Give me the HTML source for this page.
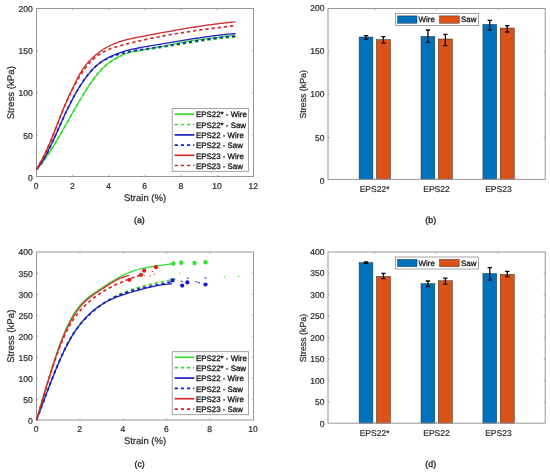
<!DOCTYPE html>
<html lang="en">
<head>
<meta charset="utf-8">
<title>Stress-strain figure</title>
<style>
html,body{margin:0;padding:0;background:#fff;}
body{width:550px;height:472px;overflow:hidden;}
svg{display:block;font-family:"Liberation Sans", sans-serif;text-rendering:geometricPrecision;filter:blur(0.35px);}
</style>
</head>
<body>
<svg width="550" height="472" viewBox="0 0 550 472">
<rect x="0" y="0" width="550" height="472" fill="#ffffff"/>
<rect x="36.5" y="8.5" width="217.0" height="168.0" fill="#fff" stroke="#969696" stroke-width="1"/>
<path d="M72.67 176.5v-1.6M72.67 8.5v1.6 M108.83 176.5v-1.6M108.83 8.5v1.6 M145.00 176.5v-1.6M145.00 8.5v1.6 M181.17 176.5v-1.6M181.17 8.5v1.6 M217.33 176.5v-1.6M217.33 8.5v1.6 M36.5 134.95h1.6M253.5 134.95h-1.6 M36.5 92.80h1.6M253.5 92.80h-1.6 M36.5 50.65h1.6M253.5 50.65h-1.6" stroke="#969696" stroke-width="0.8" fill="none"/>
<text x="36.20" y="189.00" font-size="8.5" text-anchor="middle" fill="#2c2c2c" stroke="#2c2c2c" stroke-width="0.22">0</text>
<text x="72.37" y="189.00" font-size="8.5" text-anchor="middle" fill="#2c2c2c" stroke="#2c2c2c" stroke-width="0.22">2</text>
<text x="108.53" y="189.00" font-size="8.5" text-anchor="middle" fill="#2c2c2c" stroke="#2c2c2c" stroke-width="0.22">4</text>
<text x="144.70" y="189.00" font-size="8.5" text-anchor="middle" fill="#2c2c2c" stroke="#2c2c2c" stroke-width="0.22">6</text>
<text x="180.87" y="189.00" font-size="8.5" text-anchor="middle" fill="#2c2c2c" stroke="#2c2c2c" stroke-width="0.22">8</text>
<text x="217.03" y="189.00" font-size="8.5" text-anchor="middle" fill="#2c2c2c" stroke="#2c2c2c" stroke-width="0.22">10</text>
<text x="253.20" y="189.00" font-size="8.5" text-anchor="middle" fill="#2c2c2c" stroke="#2c2c2c" stroke-width="0.22">12</text>
<text x="32.70" y="180.90" font-size="8.5" text-anchor="end" fill="#2c2c2c" stroke="#2c2c2c" stroke-width="0.22">0</text>
<text x="32.70" y="138.55" font-size="8.5" text-anchor="end" fill="#2c2c2c" stroke="#2c2c2c" stroke-width="0.22">50</text>
<text x="32.70" y="96.20" font-size="8.5" text-anchor="end" fill="#2c2c2c" stroke="#2c2c2c" stroke-width="0.22">100</text>
<text x="32.70" y="53.85" font-size="8.5" text-anchor="end" fill="#2c2c2c" stroke="#2c2c2c" stroke-width="0.22">150</text>
<text x="32.70" y="11.50" font-size="8.5" text-anchor="end" fill="#2c2c2c" stroke="#2c2c2c" stroke-width="0.22">200</text>
<text x="145.00" y="201.10" font-size="9.5" text-anchor="middle" fill="#2c2c2c" stroke="#2c2c2c" stroke-width="0.22">Strain (%)</text>
<text transform="translate(13.9 92.7) rotate(-90)" font-size="9.7" text-anchor="middle" fill="#2c2c2c" stroke="#2c2c2c" stroke-width="0.22">Stress (kPa)</text>
<clipPath id="cl"><rect x="30" y="0" width="92" height="180"/></clipPath><clipPath id="cr"><rect x="122" y="0" width="130" height="180"/></clipPath>
<path d="M36.50 169.29 L38.00 167.67 L39.49 165.95 L40.99 164.14 L42.48 162.24 L43.98 160.25 L45.48 158.19 L46.97 156.05 L48.47 153.84 L49.97 151.57 L51.46 149.24 L52.96 146.85 L54.45 144.42 L55.95 141.94 L57.45 139.42 L58.94 136.87 L60.44 134.28 L61.94 131.67 L63.43 129.04 L64.93 126.40 L66.42 123.75 L67.92 121.09 L69.42 118.43 L70.91 115.77 L72.41 113.13 L73.91 110.50 L75.40 107.88 L76.90 105.30 L78.39 102.74 L79.89 100.21 L81.39 97.72 L82.88 95.26 L84.38 92.86 L85.88 90.49 L87.37 88.18 L88.87 85.92 L90.36 83.73 L91.86 81.59 L93.36 79.52 L94.85 77.52 L96.35 75.60 L97.85 73.75 L99.34 71.99 L100.84 70.31 L102.33 68.72 L103.83 67.22 L105.33 65.81 L106.82 64.49 L108.32 63.24 L109.82 62.08 L111.31 60.99 L112.81 59.97 L114.30 59.02 L115.80 58.14 L117.30 57.32 L118.79 56.56 L120.29 55.85 L121.79 55.19 L123.28 54.58 L124.78 54.02 L126.27 53.51 L127.77 53.03 L129.27 52.59 L130.76 52.18 L132.26 51.80 L133.76 51.45 L135.25 51.13 L136.75 50.82 L138.24 50.54 L139.74 50.27 L141.24 50.01 L142.73 49.77 L144.23 49.53 L145.73 49.29 L147.22 49.05 L148.72 48.81 L150.21 48.57 L151.71 48.32 L153.21 48.05 L154.70 47.79 L156.20 47.51 L157.70 47.23 L159.19 46.95 L160.69 46.66 L162.18 46.37 L163.68 46.07 L165.18 45.77 L166.67 45.47 L168.17 45.17 L169.67 44.87 L171.16 44.57 L172.66 44.26 L174.15 43.96 L175.65 43.66 L177.15 43.37 L178.64 43.07 L180.14 42.78 L181.64 42.49 L183.13 42.21 L184.63 41.94 L186.12 41.67 L187.62 41.40 L189.12 41.15 L190.61 40.90 L192.11 40.66 L193.61 40.43 L195.10 40.21 L196.60 39.99 L198.09 39.79 L199.59 39.58 L201.09 39.39 L202.58 39.20 L204.08 39.01 L205.58 38.83 L207.07 38.65 L208.57 38.47 L210.06 38.29 L211.56 38.11 L213.06 37.94 L214.55 37.76 L216.05 37.58 L217.55 37.40 L219.04 37.22 L220.54 37.03 L222.03 36.84 L223.53 36.64 L225.03 36.44 L226.52 36.23 L228.02 36.01 L229.52 35.79 L231.01 35.56 L232.51 35.31 L234.00 35.06 L235.50 34.80" stroke="#35dc35" stroke-width="1.3" fill="none" stroke-linejoin="round"/>
<path d="M36.50 169.29 L38.00 167.68 L39.49 165.98 L40.99 164.19 L42.48 162.30 L43.98 160.33 L45.48 158.29 L46.97 156.16 L48.47 153.97 L49.97 151.71 L51.46 149.39 L52.96 147.01 L54.45 144.59 L55.95 142.11 L57.45 139.60 L58.94 137.05 L60.44 134.46 L61.94 131.85 L63.43 129.22 L64.93 126.57 L66.42 123.91 L67.92 121.24 L69.42 118.56 L70.91 115.89 L72.41 113.22 L73.91 110.57 L75.40 107.93 L76.90 105.31 L78.39 102.71 L79.89 100.15 L81.39 97.62 L82.88 95.13 L84.38 92.69 L85.88 90.29 L87.37 87.95 L88.87 85.67 L90.36 83.45 L91.86 81.30 L93.36 79.22 L94.85 77.22 L96.35 75.31 L97.85 73.48 L99.34 71.74 L100.84 70.10 L102.33 68.56 L103.83 67.13 L105.33 65.79 L106.82 64.55 L108.32 63.40 L109.82 62.33 L111.31 61.33 L112.81 60.41 L114.30 59.55 L115.80 58.76 L117.30 58.02 L118.79 57.33 L120.29 56.69 L121.79 56.08 L123.28 55.52 L124.78 54.99 L126.27 54.49 L127.77 54.03 L129.27 53.59 L130.76 53.19 L132.26 52.80 L133.76 52.44 L135.25 52.11 L136.75 51.79 L138.24 51.48 L139.74 51.20 L141.24 50.92 L142.73 50.66 L144.23 50.40 L145.73 50.15 L147.22 49.90 L148.72 49.66 L150.21 49.41 L151.71 49.17 L153.21 48.92 L154.70 48.67 L156.20 48.42 L157.70 48.17 L159.19 47.91 L160.69 47.66 L162.18 47.40 L163.68 47.15 L165.18 46.89 L166.67 46.63 L168.17 46.38 L169.67 46.12 L171.16 45.86 L172.66 45.60 L174.15 45.35 L175.65 45.09 L177.15 44.83 L178.64 44.58 L180.14 44.32 L181.64 44.07 L183.13 43.82 L184.63 43.57 L186.12 43.32 L187.62 43.07 L189.12 42.82 L190.61 42.58 L192.11 42.33 L193.61 42.09 L195.10 41.85 L196.60 41.62 L198.09 41.39 L199.59 41.15 L201.09 40.93 L202.58 40.70 L204.08 40.48 L205.58 40.26 L207.07 40.05 L208.57 39.84 L210.06 39.63 L211.56 39.42 L213.06 39.22 L214.55 39.03 L216.05 38.84 L217.55 38.65 L219.04 38.47 L220.54 38.29 L222.03 38.12 L223.53 37.95 L225.03 37.79 L226.52 37.63 L228.02 37.48 L229.52 37.33 L231.01 37.19 L232.51 37.06 L234.00 36.93 L235.50 36.81" stroke="#35dc35" stroke-width="1.7000000000000002" stroke-dasharray="3.3 2.9" fill="none" clip-path="url(#cl)"/>
<path d="M36.50 169.30 L38.00 167.61 L39.49 165.70 L40.99 163.59 L42.48 161.28 L43.98 158.79 L45.48 156.14 L46.97 153.35 L48.47 150.43 L49.97 147.40 L51.46 144.28 L52.96 141.07 L54.45 137.80 L55.95 134.48 L57.45 131.13 L58.94 127.76 L60.44 124.39 L61.94 121.04 L63.43 117.72 L64.93 114.45 L66.42 111.24 L67.92 108.11 L69.42 105.06 L70.91 102.09 L72.41 99.21 L73.91 96.41 L75.40 93.70 L76.90 91.08 L78.39 88.55 L79.89 86.11 L81.39 83.77 L82.88 81.51 L84.38 79.36 L85.88 77.30 L87.37 75.34 L88.87 73.48 L90.36 71.72 L91.86 70.07 L93.36 68.52 L94.85 67.08 L96.35 65.74 L97.85 64.51 L99.34 63.37 L100.84 62.32 L102.33 61.35 L103.83 60.46 L105.33 59.63 L106.82 58.86 L108.32 58.14 L109.82 57.46 L111.31 56.83 L112.81 56.23 L114.30 55.66 L115.80 55.13 L117.30 54.62 L118.79 54.15 L120.29 53.70 L121.79 53.28 L123.28 52.88 L124.78 52.51 L126.27 52.16 L127.77 51.83 L129.27 51.52 L130.76 51.22 L132.26 50.94 L133.76 50.68 L135.25 50.42 L136.75 50.18 L138.24 49.95 L139.74 49.73 L141.24 49.51 L142.73 49.30 L144.23 49.09 L145.73 48.88 L147.22 48.67 L148.72 48.47 L150.21 48.26 L151.71 48.04 L153.21 47.83 L154.70 47.61 L156.20 47.38 L157.70 47.16 L159.19 46.93 L160.69 46.70 L162.18 46.46 L163.68 46.23 L165.18 45.99 L166.67 45.75 L168.17 45.51 L169.67 45.26 L171.16 45.02 L172.66 44.78 L174.15 44.53 L175.65 44.28 L177.15 44.04 L178.64 43.79 L180.14 43.54 L181.64 43.30 L183.13 43.05 L184.63 42.80 L186.12 42.56 L187.62 42.31 L189.12 42.07 L190.61 41.83 L192.11 41.59 L193.61 41.35 L195.10 41.12 L196.60 40.88 L198.09 40.65 L199.59 40.42 L201.09 40.19 L202.58 39.97 L204.08 39.75 L205.58 39.53 L207.07 39.32 L208.57 39.11 L210.06 38.91 L211.56 38.71 L213.06 38.51 L214.55 38.32 L216.05 38.13 L217.55 37.95 L219.04 37.77 L220.54 37.60 L222.03 37.43 L223.53 37.27 L225.03 37.11 L226.52 36.96 L228.02 36.82 L229.52 36.68 L231.01 36.56 L232.51 36.43 L234.00 36.32 L235.50 36.21" stroke="#35dc35" stroke-width="1.7000000000000002" stroke-dasharray="3.3 2.9" fill="none" clip-path="url(#cr)" transform="translate(0 0.9)"/>
<path d="M36.50 169.31 L38.00 167.55 L39.49 165.58 L40.99 163.41 L42.48 161.07 L43.98 158.56 L45.48 155.89 L46.97 153.10 L48.47 150.18 L49.97 147.15 L51.46 144.04 L52.96 140.85 L54.45 137.61 L55.95 134.32 L57.45 131.00 L58.94 127.66 L60.44 124.33 L61.94 121.01 L63.43 117.73 L64.93 114.49 L66.42 111.31 L67.92 108.21 L69.42 105.18 L70.91 102.24 L72.41 99.38 L73.91 96.60 L75.40 93.91 L76.90 91.30 L78.39 88.78 L79.89 86.34 L81.39 84.00 L82.88 81.75 L84.38 79.58 L85.88 77.51 L87.37 75.54 L88.87 73.66 L90.36 71.88 L91.86 70.20 L93.36 68.61 L94.85 67.13 L96.35 65.75 L97.85 64.46 L99.34 63.27 L100.84 62.16 L102.33 61.12 L103.83 60.15 L105.33 59.25 L106.82 58.41 L108.32 57.61 L109.82 56.86 L111.31 56.15 L112.81 55.47 L114.30 54.83 L115.80 54.22 L117.30 53.64 L118.79 53.09 L120.29 52.57 L121.79 52.07 L123.28 51.60 L124.78 51.16 L126.27 50.74 L127.77 50.33 L129.27 49.95 L130.76 49.59 L132.26 49.24 L133.76 48.91 L135.25 48.60 L136.75 48.29 L138.24 48.00 L139.74 47.72 L141.24 47.45 L142.73 47.18 L144.23 46.92 L145.73 46.66 L147.22 46.41 L148.72 46.16 L150.21 45.91 L151.71 45.66 L153.21 45.41 L154.70 45.16 L156.20 44.90 L157.70 44.65 L159.19 44.40 L160.69 44.14 L162.18 43.89 L163.68 43.63 L165.18 43.38 L166.67 43.12 L168.17 42.87 L169.67 42.62 L171.16 42.36 L172.66 42.11 L174.15 41.86 L175.65 41.61 L177.15 41.36 L178.64 41.11 L180.14 40.86 L181.64 40.62 L183.13 40.37 L184.63 40.13 L186.12 39.89 L187.62 39.65 L189.12 39.41 L190.61 39.17 L192.11 38.94 L193.61 38.71 L195.10 38.48 L196.60 38.25 L198.09 38.02 L199.59 37.80 L201.09 37.58 L202.58 37.36 L204.08 37.15 L205.58 36.94 L207.07 36.73 L208.57 36.52 L210.06 36.32 L211.56 36.12 L213.06 35.93 L214.55 35.74 L216.05 35.55 L217.55 35.37 L219.04 35.19 L220.54 35.01 L222.03 34.84 L223.53 34.68 L225.03 34.51 L226.52 34.35 L228.02 34.20 L229.52 34.05 L231.01 33.91 L232.51 33.77 L234.00 33.64 L235.50 33.51" stroke="#2020bc" stroke-width="1.3" fill="none" stroke-linejoin="round"/>
<path d="M36.50 169.30 L38.00 167.61 L39.49 165.70 L40.99 163.59 L42.48 161.28 L43.98 158.79 L45.48 156.14 L46.97 153.35 L48.47 150.43 L49.97 147.40 L51.46 144.28 L52.96 141.07 L54.45 137.80 L55.95 134.48 L57.45 131.13 L58.94 127.76 L60.44 124.39 L61.94 121.04 L63.43 117.72 L64.93 114.45 L66.42 111.24 L67.92 108.11 L69.42 105.06 L70.91 102.09 L72.41 99.21 L73.91 96.41 L75.40 93.70 L76.90 91.08 L78.39 88.55 L79.89 86.11 L81.39 83.77 L82.88 81.51 L84.38 79.36 L85.88 77.30 L87.37 75.34 L88.87 73.48 L90.36 71.72 L91.86 70.07 L93.36 68.52 L94.85 67.08 L96.35 65.74 L97.85 64.51 L99.34 63.37 L100.84 62.32 L102.33 61.35 L103.83 60.46 L105.33 59.63 L106.82 58.86 L108.32 58.14 L109.82 57.46 L111.31 56.83 L112.81 56.23 L114.30 55.66 L115.80 55.13 L117.30 54.62 L118.79 54.15 L120.29 53.70 L121.79 53.28 L123.28 52.88 L124.78 52.51 L126.27 52.16 L127.77 51.83 L129.27 51.52 L130.76 51.22 L132.26 50.94 L133.76 50.68 L135.25 50.42 L136.75 50.18 L138.24 49.95 L139.74 49.73 L141.24 49.51 L142.73 49.30 L144.23 49.09 L145.73 48.88 L147.22 48.67 L148.72 48.47 L150.21 48.26 L151.71 48.04 L153.21 47.83 L154.70 47.61 L156.20 47.38 L157.70 47.16 L159.19 46.93 L160.69 46.70 L162.18 46.46 L163.68 46.23 L165.18 45.99 L166.67 45.75 L168.17 45.51 L169.67 45.26 L171.16 45.02 L172.66 44.78 L174.15 44.53 L175.65 44.28 L177.15 44.04 L178.64 43.79 L180.14 43.54 L181.64 43.30 L183.13 43.05 L184.63 42.80 L186.12 42.56 L187.62 42.31 L189.12 42.07 L190.61 41.83 L192.11 41.59 L193.61 41.35 L195.10 41.12 L196.60 40.88 L198.09 40.65 L199.59 40.42 L201.09 40.19 L202.58 39.97 L204.08 39.75 L205.58 39.53 L207.07 39.32 L208.57 39.11 L210.06 38.91 L211.56 38.71 L213.06 38.51 L214.55 38.32 L216.05 38.13 L217.55 37.95 L219.04 37.77 L220.54 37.60 L222.03 37.43 L223.53 37.27 L225.03 37.11 L226.52 36.96 L228.02 36.82 L229.52 36.68 L231.01 36.56 L232.51 36.43 L234.00 36.32 L235.50 36.21" stroke="#2020bc" stroke-width="1.7000000000000002" stroke-dasharray="3.3 2.9" fill="none" stroke-linejoin="round"/>
<path d="M36.50 169.30 L38.00 166.73 L39.49 164.08 L40.99 161.35 L42.48 158.53 L43.98 155.60 L45.48 152.57 L46.97 149.41 L48.47 146.14 L49.97 142.73 L51.46 139.18 L52.96 135.49 L54.45 131.71 L55.95 127.86 L57.45 124.00 L58.94 120.14 L60.44 116.31 L61.94 112.54 L63.43 108.83 L64.93 105.22 L66.42 101.72 L67.92 98.36 L69.42 95.12 L70.91 91.96 L72.41 88.85 L73.91 85.75 L75.40 82.65 L76.90 79.59 L78.39 76.65 L79.89 73.90 L81.39 71.37 L82.88 69.04 L84.38 66.91 L85.88 64.95 L87.37 63.14 L88.87 61.46 L90.36 59.90 L91.86 58.42 L93.36 57.02 L94.85 55.69 L96.35 54.43 L97.85 53.23 L99.34 52.09 L100.84 51.02 L102.33 50.00 L103.83 49.03 L105.33 48.12 L106.82 47.27 L108.32 46.46 L109.82 45.69 L111.31 44.97 L112.81 44.30 L114.30 43.66 L115.80 43.06 L117.30 42.50 L118.79 41.97 L120.29 41.48 L121.79 41.01 L123.28 40.57 L124.78 40.15 L126.27 39.76 L127.77 39.39 L129.27 39.03 L130.76 38.70 L132.26 38.37 L133.76 38.06 L135.25 37.76 L136.75 37.46 L138.24 37.17 L139.74 36.88 L141.24 36.60 L142.73 36.31 L144.23 36.02 L145.73 35.74 L147.22 35.45 L148.72 35.17 L150.21 34.89 L151.71 34.60 L153.21 34.32 L154.70 34.04 L156.20 33.76 L157.70 33.48 L159.19 33.20 L160.69 32.93 L162.18 32.65 L163.68 32.38 L165.18 32.10 L166.67 31.83 L168.17 31.56 L169.67 31.29 L171.16 31.03 L172.66 30.76 L174.15 30.50 L175.65 30.23 L177.15 29.97 L178.64 29.71 L180.14 29.46 L181.64 29.20 L183.13 28.95 L184.63 28.70 L186.12 28.45 L187.62 28.20 L189.12 27.96 L190.61 27.72 L192.11 27.48 L193.61 27.24 L195.10 27.00 L196.60 26.77 L198.09 26.54 L199.59 26.31 L201.09 26.09 L202.58 25.87 L204.08 25.65 L205.58 25.43 L207.07 25.22 L208.57 25.01 L210.06 24.80 L211.56 24.60 L213.06 24.40 L214.55 24.20 L216.05 24.01 L217.55 23.82 L219.04 23.63 L220.54 23.44 L222.03 23.26 L223.53 23.09 L225.03 22.91 L226.52 22.75 L228.02 22.58 L229.52 22.42 L231.01 22.26 L232.51 22.11 L234.00 21.96 L235.50 21.81" stroke="#d42a2a" stroke-width="1.3" fill="none" stroke-linejoin="round"/>
<path d="M36.50 169.30 L38.00 166.87 L39.49 164.30 L40.99 161.59 L42.48 158.73 L43.98 155.75 L45.48 152.63 L46.97 149.39 L48.47 146.03 L49.97 142.55 L51.46 138.97 L52.96 135.28 L54.45 131.52 L55.95 127.72 L57.45 123.89 L58.94 120.08 L60.44 116.31 L61.94 112.61 L63.43 109.00 L64.93 105.48 L66.42 102.07 L67.92 98.75 L69.42 95.54 L70.91 92.43 L72.41 89.43 L73.91 86.53 L75.40 83.74 L76.90 81.05 L78.39 78.48 L79.89 76.02 L81.39 73.67 L82.88 71.44 L84.38 69.32 L85.88 67.32 L87.37 65.44 L88.87 63.68 L90.36 62.03 L91.86 60.51 L93.36 59.08 L94.85 57.77 L96.35 56.55 L97.85 55.42 L99.34 54.38 L100.84 53.42 L102.33 52.53 L103.83 51.72 L105.33 50.97 L106.82 50.27 L108.32 49.64 L109.82 49.04 L111.31 48.50 L112.81 47.98 L114.30 47.50 L115.80 47.05 L117.30 46.61 L118.79 46.19 L120.29 45.78 L121.79 45.37 L123.28 44.96 L124.78 44.57 L126.27 44.17 L127.77 43.78 L129.27 43.40 L130.76 43.02 L132.26 42.64 L133.76 42.27 L135.25 41.90 L136.75 41.54 L138.24 41.18 L139.74 40.83 L141.24 40.48 L142.73 40.14 L144.23 39.80 L145.73 39.47 L147.22 39.14 L148.72 38.82 L150.21 38.50 L151.71 38.18 L153.21 37.88 L154.70 37.57 L156.20 37.27 L157.70 36.97 L159.19 36.68 L160.69 36.40 L162.18 36.11 L163.68 35.84 L165.18 35.56 L166.67 35.29 L168.17 35.02 L169.67 34.76 L171.16 34.50 L172.66 34.24 L174.15 33.99 L175.65 33.74 L177.15 33.50 L178.64 33.25 L180.14 33.02 L181.64 32.78 L183.13 32.55 L184.63 32.31 L186.12 32.09 L187.62 31.86 L189.12 31.64 L190.61 31.42 L192.11 31.20 L193.61 30.99 L195.10 30.77 L196.60 30.56 L198.09 30.35 L199.59 30.14 L201.09 29.94 L202.58 29.73 L204.08 29.53 L205.58 29.33 L207.07 29.13 L208.57 28.93 L210.06 28.74 L211.56 28.54 L213.06 28.35 L214.55 28.15 L216.05 27.96 L217.55 27.77 L219.04 27.58 L220.54 27.39 L222.03 27.20 L223.53 27.01 L225.03 26.82 L226.52 26.63 L228.02 26.44 L229.52 26.26 L231.01 26.07 L232.51 25.88 L234.00 25.69 L235.50 25.50" stroke="#d42a2a" stroke-width="1.7000000000000002" stroke-dasharray="3.3 2.9" fill="none" stroke-linejoin="round"/>
<rect x="172.2" y="108.5" width="76.30000000000001" height="62.80000000000001" fill="#fff" stroke="#8e8e8e" stroke-width="0.8"/>
<path d="M174.6 114.10H194.39999999999998" stroke="#35dc35" stroke-width="1.7" fill="none"/>
<text x="196.00" y="117.30" font-size="7.9" text-anchor="start" fill="#141414" stroke="#141414" stroke-width="0.3">EPS22* - Wire</text>
<path d="M174.6 124.50H194.39999999999998" stroke="#35dc35" stroke-width="1.7" stroke-dasharray="3.3 2.9" fill="none"/>
<text x="196.00" y="127.70" font-size="7.9" text-anchor="start" fill="#141414" stroke="#141414" stroke-width="0.3">EPS22* - Saw</text>
<path d="M174.6 134.90H194.39999999999998" stroke="#2020bc" stroke-width="1.7" fill="none"/>
<text x="196.00" y="138.10" font-size="7.9" text-anchor="start" fill="#141414" stroke="#141414" stroke-width="0.3">EPS22 - Wire</text>
<path d="M174.6 145.20H194.39999999999998" stroke="#2020bc" stroke-width="1.7" stroke-dasharray="3.3 2.9" fill="none"/>
<text x="196.00" y="148.40" font-size="7.9" text-anchor="start" fill="#141414" stroke="#141414" stroke-width="0.3">EPS22 - Saw</text>
<path d="M174.6 155.30H194.39999999999998" stroke="#d42a2a" stroke-width="1.7" fill="none"/>
<text x="196.00" y="158.50" font-size="7.9" text-anchor="start" fill="#141414" stroke="#141414" stroke-width="0.3">EPS23 - Wire</text>
<path d="M174.6 165.50H194.39999999999998" stroke="#d42a2a" stroke-width="1.7" stroke-dasharray="3.3 2.9" fill="none"/>
<text x="196.00" y="168.70" font-size="7.9" text-anchor="start" fill="#141414" stroke="#141414" stroke-width="0.3">EPS23 - Saw</text>
<text x="139.40" y="223.10" font-size="8.8" text-anchor="middle" fill="#1c1c1c" stroke="#1c1c1c" stroke-width="0.32">(a)</text>
<rect x="328.0" y="8.5" width="217.20000000000005" height="170.9" fill="#fff" stroke="none"/>
<rect x="359.10" y="37.00" width="13.8" height="142.40" fill="#0072bd" stroke="#222" stroke-width="0.45"/>
<path d="M366.00 39.40V35.60M363.80 39.40h4.4M363.80 35.60h4.4" stroke="#0a0a0a" stroke-width="1.3" fill="none"/>
<rect x="376.40" y="39.60" width="14.1" height="139.80" fill="#d95319" stroke="#222" stroke-width="0.45"/>
<path d="M383.45 43.20V36.60M381.25 43.20h4.4M381.25 36.60h4.4" stroke="#0a0a0a" stroke-width="1.3" fill="none"/>
<rect x="421.00" y="36.40" width="13.8" height="143.00" fill="#0072bd" stroke="#222" stroke-width="0.45"/>
<path d="M427.90 42.40V30.00M425.70 42.40h4.4M425.70 30.00h4.4" stroke="#0a0a0a" stroke-width="1.3" fill="none"/>
<rect x="438.30" y="39.00" width="14.1" height="140.40" fill="#d95319" stroke="#222" stroke-width="0.45"/>
<path d="M445.35 45.60V34.40M443.15 45.60h4.4M443.15 34.40h4.4" stroke="#0a0a0a" stroke-width="1.3" fill="none"/>
<rect x="482.90" y="24.40" width="13.8" height="155.00" fill="#0072bd" stroke="#222" stroke-width="0.45"/>
<path d="M489.80 30.00V20.40M487.60 30.00h4.4M487.60 20.40h4.4" stroke="#0a0a0a" stroke-width="1.3" fill="none"/>
<rect x="500.20" y="28.00" width="14.1" height="151.40" fill="#d95319" stroke="#222" stroke-width="0.45"/>
<path d="M507.25 32.00V25.60M505.05 32.00h4.4M505.05 25.60h4.4" stroke="#0a0a0a" stroke-width="1.3" fill="none"/>
<rect x="328.0" y="8.5" width="217.20000000000005" height="170.9" fill="none" stroke="#969696" stroke-width="1"/>
<path d="M374.6 8.5v1.6M374.6 179.4v-1.6 M436.5 8.5v1.6M436.5 179.4v-1.6 M498.4 8.5v1.6M498.4 179.4v-1.6 M328.0 137.50h1.6M545.2 137.50h-1.6 M328.0 94.40h1.6M545.2 94.40h-1.6 M328.0 51.30h1.6M545.2 51.30h-1.6" stroke="#969696" stroke-width="0.8" fill="none"/>
<text x="324.40" y="183.60" font-size="8.5" text-anchor="end" fill="#2c2c2c" stroke="#2c2c2c" stroke-width="0.22">0</text>
<text x="324.40" y="140.50" font-size="8.5" text-anchor="end" fill="#2c2c2c" stroke="#2c2c2c" stroke-width="0.22">50</text>
<text x="324.40" y="97.40" font-size="8.5" text-anchor="end" fill="#2c2c2c" stroke="#2c2c2c" stroke-width="0.22">100</text>
<text x="324.40" y="54.30" font-size="8.5" text-anchor="end" fill="#2c2c2c" stroke="#2c2c2c" stroke-width="0.22">150</text>
<text x="324.40" y="11.20" font-size="8.5" text-anchor="end" fill="#2c2c2c" stroke="#2c2c2c" stroke-width="0.22">200</text>
<text x="374.60" y="191.90" font-size="8.5" text-anchor="middle" fill="#2c2c2c" stroke="#2c2c2c" stroke-width="0.22">EPS22*</text>
<text x="436.50" y="191.90" font-size="8.5" text-anchor="middle" fill="#2c2c2c" stroke="#2c2c2c" stroke-width="0.22">EPS22</text>
<text x="498.40" y="191.90" font-size="8.5" text-anchor="middle" fill="#2c2c2c" stroke="#2c2c2c" stroke-width="0.22">EPS23</text>
<text transform="translate(305.7 94.3) rotate(-90)" font-size="8.8" text-anchor="middle" fill="#2c2c2c" stroke="#2c2c2c" stroke-width="0.22">Stress (kPa)</text>
<rect x="395.5" y="13.5" width="83" height="12" fill="#fff" stroke="#8e8e8e" stroke-width="0.8"/>
<rect x="397.6" y="15.9" width="19.4" height="7.3" fill="#0072bd" stroke="#222" stroke-width="0.45"/>
<text x="418.60" y="22.40" font-size="7.9" text-anchor="start" fill="#141414" stroke="#141414" stroke-width="0.3">Wire</text>
<rect x="439.6" y="15.9" width="19.6" height="7.3" fill="#d95319" stroke="#222" stroke-width="0.45"/>
<text x="461.00" y="22.40" font-size="7.9" text-anchor="start" fill="#141414" stroke="#141414" stroke-width="0.3">Saw</text>
<text x="430.70" y="223.30" font-size="8.8" text-anchor="middle" fill="#1c1c1c" stroke="#1c1c1c" stroke-width="0.32">(b)</text>
<rect x="36.5" y="252.0" width="217.0" height="168.0" fill="#fff" stroke="#969696" stroke-width="1"/>
<path d="M79.90 420.0v-1.6M79.90 252.0v1.6 M123.30 420.0v-1.6M123.30 252.0v1.6 M166.70 420.0v-1.6M166.70 252.0v1.6 M210.10 420.0v-1.6M210.10 252.0v1.6 M36.5 399.20h1.6M253.5 399.20h-1.6 M36.5 378.20h1.6M253.5 378.20h-1.6 M36.5 357.20h1.6M253.5 357.20h-1.6 M36.5 336.20h1.6M253.5 336.20h-1.6 M36.5 315.20h1.6M253.5 315.20h-1.6 M36.5 294.20h1.6M253.5 294.20h-1.6 M36.5 273.20h1.6M253.5 273.20h-1.6" stroke="#969696" stroke-width="0.8" fill="none"/>
<text x="36.10" y="432.30" font-size="8.5" text-anchor="middle" fill="#2c2c2c" stroke="#2c2c2c" stroke-width="0.22">0</text>
<text x="79.50" y="432.30" font-size="8.5" text-anchor="middle" fill="#2c2c2c" stroke="#2c2c2c" stroke-width="0.22">2</text>
<text x="122.90" y="432.30" font-size="8.5" text-anchor="middle" fill="#2c2c2c" stroke="#2c2c2c" stroke-width="0.22">4</text>
<text x="166.30" y="432.30" font-size="8.5" text-anchor="middle" fill="#2c2c2c" stroke="#2c2c2c" stroke-width="0.22">6</text>
<text x="209.70" y="432.30" font-size="8.5" text-anchor="middle" fill="#2c2c2c" stroke="#2c2c2c" stroke-width="0.22">8</text>
<text x="253.10" y="432.30" font-size="8.5" text-anchor="middle" fill="#2c2c2c" stroke="#2c2c2c" stroke-width="0.22">10</text>
<text x="32.70" y="423.90" font-size="8.5" text-anchor="end" fill="#2c2c2c" stroke="#2c2c2c" stroke-width="0.22">0</text>
<text x="32.70" y="402.90" font-size="8.5" text-anchor="end" fill="#2c2c2c" stroke="#2c2c2c" stroke-width="0.22">50</text>
<text x="32.70" y="381.90" font-size="8.5" text-anchor="end" fill="#2c2c2c" stroke="#2c2c2c" stroke-width="0.22">100</text>
<text x="32.70" y="360.90" font-size="8.5" text-anchor="end" fill="#2c2c2c" stroke="#2c2c2c" stroke-width="0.22">150</text>
<text x="32.70" y="339.90" font-size="8.5" text-anchor="end" fill="#2c2c2c" stroke="#2c2c2c" stroke-width="0.22">200</text>
<text x="32.70" y="318.90" font-size="8.5" text-anchor="end" fill="#2c2c2c" stroke="#2c2c2c" stroke-width="0.22">250</text>
<text x="32.70" y="297.73" font-size="8.5" text-anchor="end" fill="#2c2c2c" stroke="#2c2c2c" stroke-width="0.22">300</text>
<text x="32.70" y="276.57" font-size="8.5" text-anchor="end" fill="#2c2c2c" stroke="#2c2c2c" stroke-width="0.22">350</text>
<text x="32.70" y="255.40" font-size="8.5" text-anchor="end" fill="#2c2c2c" stroke="#2c2c2c" stroke-width="0.22">400</text>
<text x="145.00" y="444.20" font-size="9.5" text-anchor="middle" fill="#2c2c2c" stroke="#2c2c2c" stroke-width="0.22">Strain (%)</text>
<text transform="translate(13.6 336.2) rotate(-90)" font-size="9.7" text-anchor="middle" fill="#2c2c2c" stroke="#2c2c2c" stroke-width="0.22">Stress (kPa)</text>
<path d="M36.50 420.00 L37.99 414.85 L39.48 409.71 L40.97 404.57 L42.46 399.47 L43.95 394.39 L45.43 389.36 L46.92 384.38 L48.41 379.46 L49.90 374.62 L51.39 369.85 L52.88 365.17 L54.37 360.58 L55.86 356.11 L57.35 351.75 L58.84 347.52 L60.33 343.42 L61.82 339.46 L63.30 335.66 L64.79 332.02 L66.28 328.55 L67.77 325.26 L69.26 322.17 L70.75 319.27 L72.24 316.57 L73.73 314.07 L75.22 311.74 L76.71 309.59 L78.20 307.59 L79.68 305.74 L81.17 304.02 L82.66 302.42 L84.15 300.94 L85.64 299.56 L87.13 298.26 L88.62 297.04 L90.11 295.89 L91.60 294.78 L93.09 293.73 L94.58 292.70 L96.07 291.69 L97.55 290.69 L99.04 289.69 L100.53 288.69 L102.02 287.71 L103.51 286.73 L105.00 285.76 L106.49 284.80 L107.98 283.85 L109.47 282.91 L110.96 281.99 L112.45 281.09 L113.93 280.20 L115.42 279.34 L116.91 278.49 L118.40 277.67 L119.89 276.87 L121.38 276.09 L122.87 275.34 L124.36 274.62 L125.85 273.93 L127.34 273.26 L128.83 272.63 L130.32 272.04 L131.80 271.48 L133.29 270.95 L134.78 270.46 L136.27 270.00 L137.76 269.56 L139.25 269.16 L140.74 268.79 L142.23 268.43 L143.72 268.11 L145.21 267.80 L146.70 267.51 L148.18 267.24 L149.67 266.98 L151.16 266.74 L152.65 266.51 L154.14 266.29 L155.63 266.07 L157.12 265.87 L158.61 265.67 L160.10 265.47 L161.59 265.27 L163.08 265.07 L164.57 264.87 L166.05 264.66 L167.54 264.45 L169.03 264.22 L170.52 263.99 L172.01 263.75 L173.50 263.49" stroke="#35dc35" stroke-width="1.3" fill="none" stroke-linejoin="round"/>
<path d="M36.50 420.01 L37.99 416.12 L39.49 412.18 L40.98 408.22 L42.48 404.24 L43.97 400.26 L45.47 396.27 L46.96 392.29 L48.46 388.34 L49.95 384.41 L51.45 380.53 L52.94 376.70 L54.44 372.93 L55.93 369.24 L57.42 365.62 L58.92 362.10 L60.41 358.68 L61.91 355.36 L63.40 352.14 L64.90 349.04 L66.39 346.06 L67.89 343.20 L69.38 340.47 L70.88 337.87 L72.37 335.41 L73.87 333.06 L75.36 330.84 L76.85 328.73 L78.35 326.73 L79.84 324.83 L81.34 323.02 L82.83 321.30 L84.33 319.66 L85.82 318.10 L87.32 316.61 L88.81 315.18 L90.31 313.80 L91.80 312.48 L93.30 311.20 L94.79 309.96 L96.28 308.76 L97.78 307.60 L99.27 306.48 L100.77 305.39 L102.26 304.33 L103.76 303.31 L105.25 302.33 L106.75 301.38 L108.24 300.45 L109.74 299.56 L111.23 298.71 L112.73 297.88 L114.22 297.07 L115.72 296.30 L117.21 295.56 L118.70 294.84 L120.20 294.14 L121.69 293.47 L123.19 292.83 L124.68 292.20 L126.18 291.60 L127.67 291.02 L129.17 290.47 L130.66 289.93 L132.16 289.41 L133.65 288.91 L135.15 288.42 L136.64 287.96 L138.13 287.51 L139.63 287.07 L141.12 286.65 L142.62 286.24 L144.11 285.84 L145.61 285.46 L147.10 285.09 L148.60 284.72 L150.09 284.37 L151.59 284.02 L153.08 283.68 L154.58 283.35 L156.07 283.03 L157.56 282.71 L159.06 282.39 L160.55 282.08 L162.05 281.77 L163.54 281.46 L165.04 281.16 L166.53 280.85 L168.03 280.55 L169.52 280.24 L171.02 279.93 L172.51 279.62 L174.01 279.30 L175.50 278.98" stroke="#35dc35" stroke-width="1.7000000000000002" stroke-dasharray="3.3 2.9" fill="none" stroke-linejoin="round"/>
<path d="M36.50 420.01 L37.99 416.01 L39.48 412.01 L40.97 408.01 L42.46 404.02 L43.95 400.05 L45.43 396.10 L46.92 392.18 L48.41 388.29 L49.90 384.44 L51.39 380.64 L52.88 376.89 L54.37 373.20 L55.86 369.57 L57.35 366.01 L58.84 362.53 L60.32 359.14 L61.81 355.83 L63.30 352.62 L64.79 349.51 L66.28 346.51 L67.77 343.62 L69.26 340.85 L70.75 338.21 L72.24 335.69 L73.73 333.29 L75.21 331.01 L76.70 328.84 L78.19 326.78 L79.68 324.81 L81.17 322.94 L82.66 321.16 L84.15 319.47 L85.64 317.85 L87.13 316.31 L88.62 314.84 L90.10 313.44 L91.59 312.09 L93.08 310.82 L94.57 309.60 L96.06 308.43 L97.55 307.33 L99.04 306.27 L100.53 305.27 L102.02 304.31 L103.51 303.40 L104.99 302.54 L106.48 301.72 L107.97 300.94 L109.46 300.19 L110.95 299.48 L112.44 298.81 L113.93 298.16 L115.42 297.55 L116.91 296.96 L118.40 296.39 L119.88 295.85 L121.37 295.33 L122.86 294.83 L124.35 294.34 L125.84 293.86 L127.33 293.40 L128.82 292.95 L130.31 292.50 L131.80 292.06 L133.29 291.63 L134.77 291.19 L136.26 290.77 L137.75 290.34 L139.24 289.93 L140.73 289.52 L142.22 289.12 L143.71 288.73 L145.20 288.35 L146.69 287.97 L148.18 287.61 L149.66 287.26 L151.15 286.92 L152.64 286.59 L154.13 286.28 L155.62 285.98 L157.11 285.69 L158.60 285.42 L160.09 285.17 L161.58 284.93 L163.07 284.71 L164.55 284.51 L166.04 284.33 L167.53 284.17 L169.02 284.02 L170.51 283.90 L172.00 283.80" stroke="#2020bc" stroke-width="1.3" fill="none" stroke-linejoin="round"/>
<path d="M36.50 420.01 L37.99 416.19 L39.49 412.32 L40.98 408.40 L42.48 404.45 L43.97 400.48 L45.47 396.50 L46.96 392.53 L48.46 388.56 L49.95 384.62 L51.45 380.72 L52.94 376.86 L54.43 373.07 L55.93 369.35 L57.42 365.70 L58.92 362.16 L60.41 358.71 L61.91 355.37 L63.40 352.13 L64.90 349.02 L66.39 346.02 L67.88 343.15 L69.38 340.42 L70.87 337.82 L72.37 335.36 L73.86 333.02 L75.36 330.81 L76.85 328.71 L78.35 326.71 L79.84 324.82 L81.34 323.01 L82.83 321.29 L84.32 319.65 L85.82 318.07 L87.31 316.56 L88.81 315.11 L90.30 313.70 L91.80 312.35 L93.29 311.05 L94.79 309.79 L96.28 308.58 L97.77 307.42 L99.27 306.30 L100.76 305.23 L102.26 304.20 L103.75 303.20 L105.25 302.25 L106.74 301.34 L108.24 300.47 L109.73 299.63 L111.23 298.82 L112.72 298.05 L114.21 297.32 L115.71 296.61 L117.20 295.94 L118.70 295.29 L120.19 294.67 L121.69 294.08 L123.18 293.52 L124.68 292.97 L126.17 292.46 L127.66 291.96 L129.16 291.49 L130.65 291.03 L132.15 290.60 L133.64 290.18 L135.14 289.77 L136.63 289.39 L138.13 289.01 L139.62 288.65 L141.12 288.30 L142.61 287.96 L144.10 287.63 L145.60 287.31 L147.09 286.99 L148.59 286.68 L150.08 286.38 L151.58 286.07 L153.07 285.77 L154.57 285.47 L156.06 285.17 L157.55 284.87 L159.05 284.57 L160.54 284.26 L162.04 283.94 L163.53 283.62 L165.03 283.29 L166.52 282.96 L168.02 282.61 L169.51 282.25 L171.01 281.88 L172.50 281.50" stroke="#2020bc" stroke-width="1.7000000000000002" stroke-dasharray="3.3 2.9" fill="none" stroke-linejoin="round"/>
<path d="M36.50 420.01 L38.00 414.99 L39.49 409.95 L40.99 404.89 L42.49 399.83 L43.98 394.78 L45.48 389.76 L46.98 384.77 L48.47 379.84 L49.97 374.97 L51.47 370.18 L52.96 365.49 L54.46 360.90 L55.96 356.44 L57.45 352.11 L58.95 347.93 L60.45 343.92 L61.95 340.08 L63.44 336.43 L64.94 332.95 L66.44 329.66 L67.93 326.54 L69.43 323.58 L70.93 320.79 L72.42 318.15 L73.92 315.67 L75.42 313.34 L76.91 311.16 L78.41 309.11 L79.91 307.20 L81.40 305.42 L82.90 303.77 L84.40 302.23 L85.89 300.80 L87.39 299.46 L88.89 298.20 L90.38 297.01 L91.88 295.89 L93.38 294.81 L94.87 293.78 L96.37 292.77 L97.87 291.78 L99.36 290.80 L100.86 289.82 L102.36 288.83 L103.85 287.84 L105.35 286.86 L106.85 285.88 L108.35 284.92 L109.84 283.97 L111.34 283.05 L112.84 282.16 L114.33 281.29 L115.83 280.46 L117.33 279.68 L118.82 278.93 L120.32 278.24 L121.82 277.60 L123.31 277.02 L124.81 276.51 L126.31 276.06 L127.80 275.69 L129.30 275.39" stroke="#d42a2a" stroke-width="1.3" fill="none" stroke-linejoin="round"/>
<path d="M36.50 420.00 L37.99 414.90 L39.49 409.80 L40.98 404.73 L42.47 399.69 L43.96 394.69 L45.46 389.75 L46.95 384.87 L48.44 380.07 L49.94 375.35 L51.43 370.72 L52.92 366.20 L54.41 361.79 L55.91 357.51 L57.40 353.36 L58.89 349.36 L60.39 345.51 L61.88 341.83 L63.37 338.33 L64.86 335.01 L66.36 331.88 L67.85 328.94 L69.34 326.19 L70.84 323.60 L72.33 321.16 L73.82 318.88 L75.31 316.74 L76.81 314.73 L78.30 312.83 L79.79 311.05 L81.29 309.37 L82.78 307.78 L84.27 306.26 L85.76 304.82 L87.26 303.45 L88.75 302.12 L90.24 300.84 L91.74 299.60 L93.23 298.41 L94.72 297.26 L96.21 296.15 L97.71 295.08 L99.20 294.05 L100.69 293.06 L102.19 292.10 L103.68 291.17 L105.17 290.28 L106.66 289.41 L108.16 288.58 L109.65 287.77 L111.14 286.99 L112.64 286.24 L114.13 285.51 L115.62 284.80 L117.11 284.11 L118.61 283.45 L120.10 282.80 L121.59 282.16 L123.09 281.55 L124.58 280.94 L126.07 280.35 L127.56 279.77 L129.06 279.20 L130.55 278.63 L132.04 278.07 L133.54 277.52 L135.03 276.97 L136.52 276.43 L138.01 275.88 L139.51 275.34 L141.00 274.79" stroke="#d42a2a" stroke-width="1.7000000000000002" stroke-dasharray="3.3 2.9" fill="none" stroke-linejoin="round"/>
<circle cx="173.4" cy="263.5" r="2.2" fill="#2fe22f"/>
<circle cx="181.3" cy="262.7" r="2.2" fill="#2fe22f"/>
<circle cx="194.5" cy="263.0" r="2.2" fill="#2fe22f"/>
<circle cx="205.5" cy="262.3" r="2.2" fill="#2fe22f"/>
<circle cx="179.6" cy="273.1" r="0.7" fill="#35dc35"/>
<circle cx="224.5" cy="276.9" r="0.7" fill="#35dc35"/>
<circle cx="238.5" cy="276.4" r="0.7" fill="#35dc35"/>
<circle cx="129.5" cy="279.8" r="2.15" fill="#ee1a1a"/>
<circle cx="141.0" cy="274.8" r="2.15" fill="#ee1a1a"/>
<circle cx="144.2" cy="270.7" r="2.15" fill="#ee1a1a"/>
<circle cx="156.0" cy="267.2" r="2.15" fill="#ee1a1a"/>
<circle cx="152.5" cy="271.4" r="0.6" fill="#d42a2a"/>
<circle cx="154.4" cy="274.2" r="0.6" fill="#d42a2a"/>
<circle cx="150.5" cy="276.1" r="0.6" fill="#d42a2a"/>
<circle cx="144.8" cy="275.5" r="0.6" fill="#d42a2a"/>
<rect x="170.5" y="278.4" width="3.9" height="3.9" fill="#1414dc"/>
<circle cx="182.2" cy="285.6" r="2.1" fill="#1414dc"/>
<circle cx="187.3" cy="282.4" r="2.1" fill="#1414dc"/>
<circle cx="205.5" cy="284.5" r="2.1" fill="#1414dc"/>
<rect x="180.8" y="280.8" width="2" height="1" fill="#2020bc"/>
<rect x="186.8" y="277.7" width="2" height="1" fill="#2020bc"/>
<rect x="195.4" y="281.3" width="2" height="1" fill="#2020bc"/>
<rect x="198.0" y="282.2" width="2" height="1" fill="#2020bc"/>
<rect x="204.5" y="277.5" width="2" height="1" fill="#2020bc"/>
<rect x="172.2" y="351.7" width="76.30000000000001" height="63.0" fill="#fff" stroke="#8e8e8e" stroke-width="0.8"/>
<path d="M174.6 357.30H194.39999999999998" stroke="#35dc35" stroke-width="1.7" fill="none"/>
<text x="196.00" y="360.50" font-size="7.9" text-anchor="start" fill="#141414" stroke="#141414" stroke-width="0.3">EPS22* - Wire</text>
<path d="M174.6 367.70H194.39999999999998" stroke="#35dc35" stroke-width="1.7" stroke-dasharray="3.3 2.9" fill="none"/>
<text x="196.00" y="370.90" font-size="7.9" text-anchor="start" fill="#141414" stroke="#141414" stroke-width="0.3">EPS22* - Saw</text>
<path d="M174.6 378.10H194.39999999999998" stroke="#2020bc" stroke-width="1.7" fill="none"/>
<text x="196.00" y="381.30" font-size="7.9" text-anchor="start" fill="#141414" stroke="#141414" stroke-width="0.3">EPS22 - Wire</text>
<path d="M174.6 388.40H194.39999999999998" stroke="#2020bc" stroke-width="1.7" stroke-dasharray="3.3 2.9" fill="none"/>
<text x="196.00" y="391.60" font-size="7.9" text-anchor="start" fill="#141414" stroke="#141414" stroke-width="0.3">EPS22 - Saw</text>
<path d="M174.6 398.70H194.39999999999998" stroke="#d42a2a" stroke-width="1.7" fill="none"/>
<text x="196.00" y="401.90" font-size="7.9" text-anchor="start" fill="#141414" stroke="#141414" stroke-width="0.3">EPS23 - Wire</text>
<path d="M174.6 409.10H194.39999999999998" stroke="#d42a2a" stroke-width="1.7" stroke-dasharray="3.3 2.9" fill="none"/>
<text x="196.00" y="412.30" font-size="7.9" text-anchor="start" fill="#141414" stroke="#141414" stroke-width="0.3">EPS23 - Saw</text>
<text x="139.60" y="466.50" font-size="8.8" text-anchor="middle" fill="#1c1c1c" stroke="#1c1c1c" stroke-width="0.32">(c)</text>
<rect x="328.0" y="252.0" width="217.20000000000005" height="171.2" fill="#fff" stroke="none"/>
<rect x="359.10" y="262.60" width="13.8" height="160.60" fill="#0072bd" stroke="#222" stroke-width="0.45"/>
<path d="M366.00 263.40V261.80M363.80 263.40h4.4M363.80 261.80h4.4" stroke="#0a0a0a" stroke-width="1.3" fill="none"/>
<rect x="376.40" y="276.40" width="14.1" height="146.80" fill="#d95319" stroke="#222" stroke-width="0.45"/>
<path d="M383.45 278.60V273.40M381.25 278.60h4.4M381.25 273.40h4.4" stroke="#0a0a0a" stroke-width="1.3" fill="none"/>
<rect x="421.00" y="283.60" width="13.8" height="139.60" fill="#0072bd" stroke="#222" stroke-width="0.45"/>
<path d="M427.90 286.50V281.00M425.70 286.50h4.4M425.70 281.00h4.4" stroke="#0a0a0a" stroke-width="1.3" fill="none"/>
<rect x="438.30" y="280.70" width="14.1" height="142.50" fill="#d95319" stroke="#222" stroke-width="0.45"/>
<path d="M445.35 284.20V278.10M443.15 284.20h4.4M443.15 278.10h4.4" stroke="#0a0a0a" stroke-width="1.3" fill="none"/>
<rect x="482.90" y="273.50" width="13.8" height="149.70" fill="#0072bd" stroke="#222" stroke-width="0.45"/>
<path d="M489.80 280.10V267.60M487.60 280.10h4.4M487.60 267.60h4.4" stroke="#0a0a0a" stroke-width="1.3" fill="none"/>
<rect x="500.20" y="274.30" width="14.1" height="148.90" fill="#d95319" stroke="#222" stroke-width="0.45"/>
<path d="M507.25 276.70V271.40M505.05 276.70h4.4M505.05 271.40h4.4" stroke="#0a0a0a" stroke-width="1.3" fill="none"/>
<rect x="328.0" y="252.0" width="217.20000000000005" height="171.2" fill="none" stroke="#969696" stroke-width="1"/>
<path d="M374.6 252.0v1.6M374.6 423.2v-1.6 M436.5 252.0v1.6M436.5 423.2v-1.6 M498.4 252.0v1.6M498.4 423.2v-1.6 M328.0 402.30h1.6M545.2 402.30h-1.6 M328.0 380.80h1.6M545.2 380.80h-1.6 M328.0 359.30h1.6M545.2 359.30h-1.6 M328.0 337.80h1.6M545.2 337.80h-1.6 M328.0 316.30h1.6M545.2 316.30h-1.6 M328.0 294.80h1.6M545.2 294.80h-1.6 M328.0 273.30h1.6M545.2 273.30h-1.6" stroke="#969696" stroke-width="0.8" fill="none"/>
<text x="324.40" y="426.80" font-size="8.5" text-anchor="end" fill="#2c2c2c" stroke="#2c2c2c" stroke-width="0.22">0</text>
<text x="324.40" y="405.30" font-size="8.5" text-anchor="end" fill="#2c2c2c" stroke="#2c2c2c" stroke-width="0.22">50</text>
<text x="324.40" y="383.80" font-size="8.5" text-anchor="end" fill="#2c2c2c" stroke="#2c2c2c" stroke-width="0.22">100</text>
<text x="324.40" y="362.30" font-size="8.5" text-anchor="end" fill="#2c2c2c" stroke="#2c2c2c" stroke-width="0.22">150</text>
<text x="324.40" y="340.80" font-size="8.5" text-anchor="end" fill="#2c2c2c" stroke="#2c2c2c" stroke-width="0.22">200</text>
<text x="324.40" y="319.30" font-size="8.5" text-anchor="end" fill="#2c2c2c" stroke="#2c2c2c" stroke-width="0.22">250</text>
<text x="324.40" y="297.80" font-size="8.5" text-anchor="end" fill="#2c2c2c" stroke="#2c2c2c" stroke-width="0.22">300</text>
<text x="324.40" y="276.30" font-size="8.5" text-anchor="end" fill="#2c2c2c" stroke="#2c2c2c" stroke-width="0.22">350</text>
<text x="324.40" y="254.80" font-size="8.5" text-anchor="end" fill="#2c2c2c" stroke="#2c2c2c" stroke-width="0.22">400</text>
<text x="374.60" y="435.80" font-size="8.5" text-anchor="middle" fill="#2c2c2c" stroke="#2c2c2c" stroke-width="0.22">EPS22*</text>
<text x="436.50" y="435.80" font-size="8.5" text-anchor="middle" fill="#2c2c2c" stroke="#2c2c2c" stroke-width="0.22">EPS22</text>
<text x="498.40" y="435.80" font-size="8.5" text-anchor="middle" fill="#2c2c2c" stroke="#2c2c2c" stroke-width="0.22">EPS23</text>
<text transform="translate(305.7 338.1) rotate(-90)" font-size="8.8" text-anchor="middle" fill="#2c2c2c" stroke="#2c2c2c" stroke-width="0.22">Stress (kPa)</text>
<rect x="395.5" y="257.0" width="83" height="12" fill="#fff" stroke="#8e8e8e" stroke-width="0.8"/>
<rect x="397.6" y="259.4" width="19.4" height="7.3" fill="#0072bd" stroke="#222" stroke-width="0.45"/>
<text x="418.60" y="265.90" font-size="7.9" text-anchor="start" fill="#141414" stroke="#141414" stroke-width="0.3">Wire</text>
<rect x="439.6" y="259.4" width="19.6" height="7.3" fill="#d95319" stroke="#222" stroke-width="0.45"/>
<text x="461.00" y="265.90" font-size="7.9" text-anchor="start" fill="#141414" stroke="#141414" stroke-width="0.3">Saw</text>
<text x="430.70" y="466.60" font-size="8.8" text-anchor="middle" fill="#1c1c1c" stroke="#1c1c1c" stroke-width="0.32">(d)</text>
</svg>
</body>
</html>
